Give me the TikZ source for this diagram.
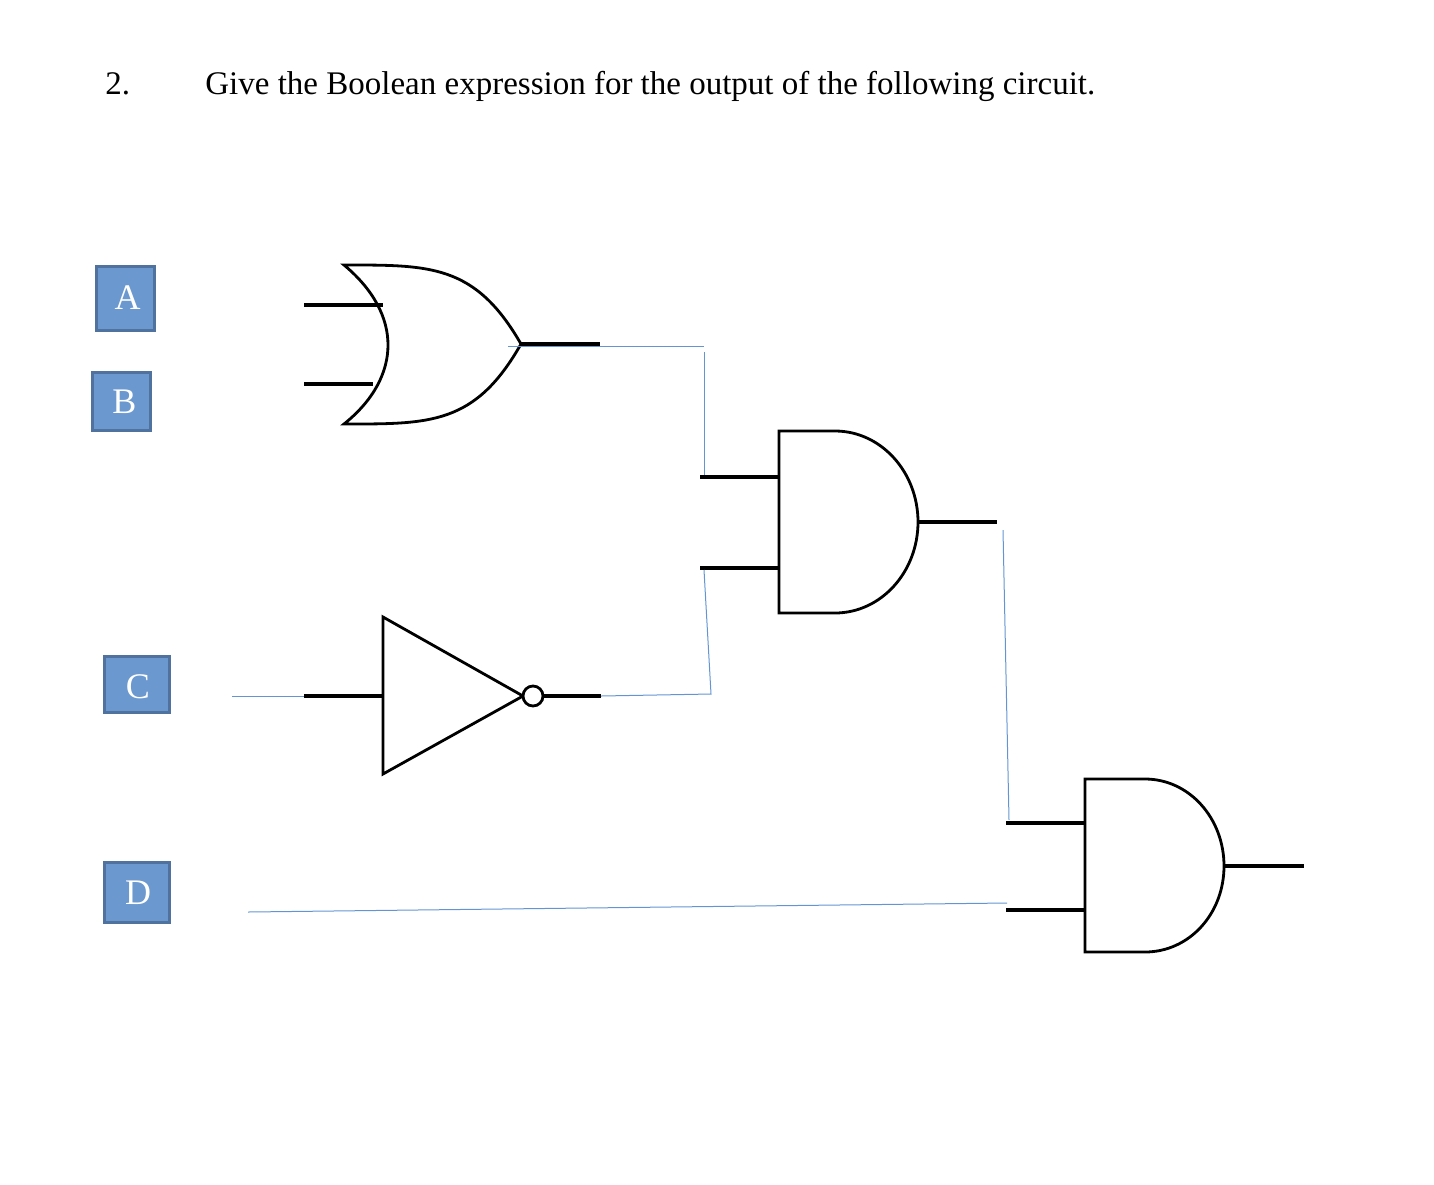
\documentclass[tikz,border=0pt]{standalone}
\usepackage{fontspec}
\setmainfont{Liberation Serif}
\usetikzlibrary{shapes,arrows}
\definecolor{boxfill}{HTML}{6A98CF}
\definecolor{boxedge}{HTML}{4F729E}
\definecolor{wireblue}{HTML}{6495D2}
\newcommand{\nudged}[3]{\hspace*{#1}\raisebox{#2}[\height][\depth]{#3}}
\tikzstyle{block} = [rectangle, draw=boxedge, fill=boxfill, line width=1.5pt, text=white, font=\fontsize{18}{18}\selectfont, inner sep=0pt]
\tikzstyle{gate} = [draw, line width=1.4pt, line join=miter, fill=white]
\tikzstyle{pin} = [draw, line width=1.6pt]
\tikzstyle{line} = [draw=wireblue, line width=0.5pt]
\tikzstyle{title} = [anchor=base west, inner sep=0pt, font=\fontsize{16.5}{17}\selectfont]

\begin{document}
\begin{tikzpicture}[x=0.5pt, y=-0.5pt]
    \useasboundingbox (0,0) rectangle (1434,1184);
    % Place text
    \node [title] at (105,94) (number) {2.};
    \node [title] at (205,94) (question) {Give the Boolean expression for the output of the following circuit.};
    % Place inputs
    \node [block, minimum width=29pt, minimum height=32pt] at (125.5,298.5) (A) {\nudged{2pt}{0.5pt}{A}};
    \node [block, minimum width=29pt, minimum height=29pt] at (121.5,401.5) (B) {\nudged{3pt}{0pt}{B}};
    \node [block, minimum width=32.5pt, minimum height=28pt] at (137,684.5) (C) {\nudged{1pt}{-1pt}{C}};
    \node [block, minimum width=32.5pt, minimum height=30pt] at (137,892.5) (D) {\nudged{1pt}{0pt}{D}};
    % Gate pins
    \coordinate (orA) at (304,305);
    \coordinate (orAend) at (383,305);
    \coordinate (orB) at (304,384);
    \coordinate (orBend) at (373,384);
    \coordinate (orTip) at (521,344);
    \coordinate (orOut) at (600,344);
    \coordinate (notIn) at (304,696);
    \coordinate (notBase) at (383,696);
    \coordinate (notOut) at (601,696);
    \coordinate (andA) at (700,477);
    \coordinate (andAend) at (779,477);
    \coordinate (andB) at (700,568);
    \coordinate (andBend) at (779,568);
    \coordinate (andTip) at (918,522);
    \coordinate (andOut) at (997,522);
    \coordinate (lastA) at (1006,823);
    \coordinate (lastAend) at (1085,823);
    \coordinate (lastB) at (1006,910);
    \coordinate (lastBend) at (1085,910);
    \coordinate (lastTip) at (1224,866);
    \coordinate (lastOut) at (1304,866);
    % Draw gates
    \draw [gate, fill=none] (344,265) .. controls (374,290) and (388,318) .. (388,345)
        .. controls (388,372) and (374,400) .. (344,424)
        .. controls (430,424) and (475,425) .. (orTip)
        .. controls (475,264) and (430,265) .. cycle;
    \draw [gate] (383,617) -- (383,774) -- (523,696) -- cycle;
    \node [circle, draw, line width=1.4pt, fill=white, minimum size=10pt, inner sep=0pt] at (533,696) (bubble) {};
    \draw [gate] (779,431) -- (835,431) .. controls (881,431) and (918,472) .. (andTip)
        .. controls (918,572) and (881,613) .. (835,613) -- (779,613) -- cycle;
    \draw [gate] (1085,779) -- (1145,779) .. controls (1189,779) and (1224,818) .. (lastTip)
        .. controls (1224,914) and (1189,952) .. (1145,952) -- (1085,952) -- cycle;
    % Draw pins
    \path [pin] (orA) -- (orAend);
    \path [pin] (orB) -- (orBend);
    \path [pin] (orTip) -- (orOut);
    \path [pin] (notIn) -- (notBase);
    \path [pin] (bubble) -- (notOut);
    \path [pin] (andA) -- (andAend);
    \path [pin] (andB) -- (andBend);
    \path [pin] (andTip) -- (andOut);
    \path [pin] (lastA) -- (lastAend);
    \path [pin] (lastB) -- (lastBend);
    \path [pin] (lastTip) -- (lastOut);
    % Draw wires
    \coordinate (orWire) at (508,346);
    \coordinate (orCorner) at (704,346);
    \coordinate (orDrop) at (704,352);
    \coordinate (orLand) at (704,475);
    \coordinate (notCorner) at (711,694);
    \coordinate (notLand) at (704,570);
    \coordinate (cWire) at (232,696);
    \coordinate (dWire) at (248,912);
    \coordinate (dLand) at (1007,903);
    \coordinate (andDrop) at (1003,530);
    \coordinate (andLand) at (1009,820);
    \path [line] (orWire) -- (orCorner);
    \path [line] (orDrop) -- (orLand);
    \path [line] (notOut) -- (notCorner) -- (notLand);
    \path [line] (cWire) -- (notIn);
    \path [line] (dWire) -- (dLand);
    \path [line] (andDrop) -- (andLand);
\end{tikzpicture}
\end{document}
